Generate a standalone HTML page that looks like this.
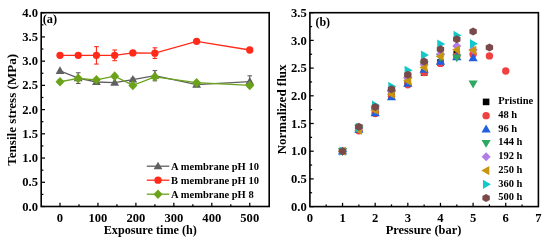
<!DOCTYPE html>
<html><head><meta charset="utf-8"><title>Figure</title>
<style>html,body{margin:0;padding:0;background:#fff}svg{display:block}</style></head>
<body>
<svg width="550" height="241" viewBox="0 0 550 241">
<rect width="550" height="241" fill="#fff"/>
<polyline fill="none" stroke="#606060" stroke-width="1.3" points="60.00,70.84 78.22,78.11 96.43,81.98 114.65,82.61 132.86,79.56 154.88,75.68 196.62,84.65 249.75,81.64"/>
<line x1="78.22" x2="78.22" y1="72.77" y2="83.44" stroke="#606060" stroke-width="1.1"/><line x1="75.92" x2="80.52" y1="72.77" y2="72.77" stroke="#606060" stroke-width="1.1"/><line x1="75.92" x2="80.52" y1="83.44" y2="83.44" stroke="#606060" stroke-width="1.1"/>
<line x1="96.43" x2="96.43" y1="80.04" y2="83.92" stroke="#606060" stroke-width="1.1"/><line x1="94.13" x2="98.73" y1="80.04" y2="80.04" stroke="#606060" stroke-width="1.1"/><line x1="94.13" x2="98.73" y1="83.92" y2="83.92" stroke="#606060" stroke-width="1.1"/>
<line x1="132.86" x2="132.86" y1="78.11" y2="81.02" stroke="#606060" stroke-width="1.1"/><line x1="130.56" x2="135.16" y1="78.11" y2="78.11" stroke="#606060" stroke-width="1.1"/><line x1="130.56" x2="135.16" y1="81.02" y2="81.02" stroke="#606060" stroke-width="1.1"/>
<line x1="154.88" x2="154.88" y1="70.59" y2="80.78" stroke="#606060" stroke-width="1.1"/><line x1="152.57" x2="157.18" y1="70.59" y2="70.59" stroke="#606060" stroke-width="1.1"/><line x1="152.57" x2="157.18" y1="80.78" y2="80.78" stroke="#606060" stroke-width="1.1"/>
<line x1="196.62" x2="196.62" y1="82.71" y2="86.59" stroke="#606060" stroke-width="1.1"/><line x1="194.32" x2="198.92" y1="82.71" y2="82.71" stroke="#606060" stroke-width="1.1"/><line x1="194.32" x2="198.92" y1="86.59" y2="86.59" stroke="#606060" stroke-width="1.1"/>
<line x1="249.75" x2="249.75" y1="75.82" y2="87.46" stroke="#606060" stroke-width="1.1"/><line x1="247.45" x2="252.05" y1="75.82" y2="75.82" stroke="#606060" stroke-width="1.1"/><line x1="247.45" x2="252.05" y1="87.46" y2="87.46" stroke="#606060" stroke-width="1.1"/>
<polygon points="60.00,66.27 55.60,73.89 64.40,73.89" fill="#606060"/>
<polygon points="78.22,73.54 73.82,81.16 82.62,81.16" fill="#606060"/>
<polygon points="96.43,77.41 92.03,85.03 100.83,85.03" fill="#606060"/>
<polygon points="114.65,78.04 110.25,85.66 119.05,85.66" fill="#606060"/>
<polygon points="132.86,74.99 128.46,82.61 137.26,82.61" fill="#606060"/>
<polygon points="154.88,71.11 150.47,78.73 159.28,78.73" fill="#606060"/>
<polygon points="196.62,80.08 192.22,87.70 201.02,87.70" fill="#606060"/>
<polygon points="249.75,77.07 245.35,84.69 254.15,84.69" fill="#606060"/>
<polyline fill="none" stroke="#ff2a1a" stroke-width="1.3" points="60.00,55.34 78.22,55.34 96.43,55.34 114.65,55.34 132.86,52.91 154.88,53.16 196.62,41.29 249.75,50.01"/>
<line x1="96.43" x2="96.43" y1="46.61" y2="64.07" stroke="#ff2a1a" stroke-width="1.1"/><line x1="94.13" x2="98.73" y1="46.61" y2="46.61" stroke="#ff2a1a" stroke-width="1.1"/><line x1="94.13" x2="98.73" y1="64.07" y2="64.07" stroke="#ff2a1a" stroke-width="1.1"/>
<line x1="114.65" x2="114.65" y1="50.00" y2="60.67" stroke="#ff2a1a" stroke-width="1.1"/><line x1="112.35" x2="116.95" y1="50.00" y2="50.00" stroke="#ff2a1a" stroke-width="1.1"/><line x1="112.35" x2="116.95" y1="60.67" y2="60.67" stroke="#ff2a1a" stroke-width="1.1"/>
<line x1="154.88" x2="154.88" y1="47.82" y2="58.49" stroke="#ff2a1a" stroke-width="1.1"/><line x1="152.57" x2="157.18" y1="47.82" y2="47.82" stroke="#ff2a1a" stroke-width="1.1"/><line x1="152.57" x2="157.18" y1="58.49" y2="58.49" stroke="#ff2a1a" stroke-width="1.1"/>
<circle cx="60.00" cy="55.34" r="3.65" fill="#ff2a1a"/>
<circle cx="78.22" cy="55.34" r="3.65" fill="#ff2a1a"/>
<circle cx="96.43" cy="55.34" r="3.65" fill="#ff2a1a"/>
<circle cx="114.65" cy="55.34" r="3.65" fill="#ff2a1a"/>
<circle cx="132.86" cy="52.91" r="3.65" fill="#ff2a1a"/>
<circle cx="154.88" cy="53.16" r="3.65" fill="#ff2a1a"/>
<circle cx="196.62" cy="41.29" r="3.65" fill="#ff2a1a"/>
<circle cx="249.75" cy="50.01" r="3.65" fill="#ff2a1a"/>
<polyline fill="none" stroke="#6aa31a" stroke-width="1.3" points="60.00,81.74 78.22,78.35 96.43,79.80 114.65,76.17 132.86,85.38 154.88,76.90 196.62,82.71 249.75,85.38"/>
<line x1="60.00" x2="60.00" y1="80.29" y2="83.20" stroke="#6aa31a" stroke-width="1.1"/><line x1="57.70" x2="62.30" y1="80.29" y2="80.29" stroke="#6aa31a" stroke-width="1.1"/><line x1="57.70" x2="62.30" y1="83.20" y2="83.20" stroke="#6aa31a" stroke-width="1.1"/>
<line x1="78.22" x2="78.22" y1="76.89" y2="79.80" stroke="#6aa31a" stroke-width="1.1"/><line x1="75.92" x2="80.52" y1="76.89" y2="76.89" stroke="#6aa31a" stroke-width="1.1"/><line x1="75.92" x2="80.52" y1="79.80" y2="79.80" stroke="#6aa31a" stroke-width="1.1"/>
<line x1="114.65" x2="114.65" y1="74.71" y2="77.62" stroke="#6aa31a" stroke-width="1.1"/><line x1="112.35" x2="116.95" y1="74.71" y2="74.71" stroke="#6aa31a" stroke-width="1.1"/><line x1="112.35" x2="116.95" y1="77.62" y2="77.62" stroke="#6aa31a" stroke-width="1.1"/>
<line x1="249.75" x2="249.75" y1="83.92" y2="86.83" stroke="#6aa31a" stroke-width="1.1"/><line x1="247.45" x2="252.05" y1="83.92" y2="83.92" stroke="#6aa31a" stroke-width="1.1"/><line x1="247.45" x2="252.05" y1="86.83" y2="86.83" stroke="#6aa31a" stroke-width="1.1"/>
<polygon points="60.00,76.94 64.51,81.74 60.00,86.54 55.49,81.74" fill="#6aa31a"/>
<polygon points="78.22,73.55 82.73,78.35 78.22,83.15 73.70,78.35" fill="#6aa31a"/>
<polygon points="96.43,75.00 100.94,79.80 96.43,84.60 91.92,79.80" fill="#6aa31a"/>
<polygon points="114.65,71.37 119.16,76.17 114.65,80.97 110.14,76.17" fill="#6aa31a"/>
<polygon points="132.86,80.58 137.38,85.38 132.86,90.17 128.35,85.38" fill="#6aa31a"/>
<polygon points="154.88,72.10 159.39,76.90 154.88,81.70 150.36,76.90" fill="#6aa31a"/>
<polygon points="196.62,77.91 201.13,82.71 196.62,87.51 192.11,82.71" fill="#6aa31a"/>
<polygon points="249.75,80.58 254.26,85.38 249.75,90.17 245.24,85.38" fill="#6aa31a"/>
<rect x="41.2" y="12.7" width="228.00" height="193.80" fill="none" stroke="#000" stroke-width="1.6"/>
<line x1="41.2" x2="45.0" y1="206.50" y2="206.50" stroke="#000" stroke-width="1.25"/>
<text x="38.0" y="210.60" text-anchor="end" font-size="12.6" font-family="Liberation Serif, Times New Roman, serif" font-weight="bold">0.0</text>
<line x1="41.2" x2="43.400000000000006" y1="194.39" y2="194.39" stroke="#000" stroke-width="1.25"/>
<line x1="41.2" x2="45.0" y1="182.28" y2="182.28" stroke="#000" stroke-width="1.25"/>
<text x="38.0" y="186.38" text-anchor="end" font-size="12.6" font-family="Liberation Serif, Times New Roman, serif" font-weight="bold">0.5</text>
<line x1="41.2" x2="43.400000000000006" y1="170.16" y2="170.16" stroke="#000" stroke-width="1.25"/>
<line x1="41.2" x2="45.0" y1="158.05" y2="158.05" stroke="#000" stroke-width="1.25"/>
<text x="38.0" y="162.15" text-anchor="end" font-size="12.6" font-family="Liberation Serif, Times New Roman, serif" font-weight="bold">1.0</text>
<line x1="41.2" x2="43.400000000000006" y1="145.94" y2="145.94" stroke="#000" stroke-width="1.25"/>
<line x1="41.2" x2="45.0" y1="133.82" y2="133.82" stroke="#000" stroke-width="1.25"/>
<text x="38.0" y="137.92" text-anchor="end" font-size="12.6" font-family="Liberation Serif, Times New Roman, serif" font-weight="bold">1.5</text>
<line x1="41.2" x2="43.400000000000006" y1="121.71" y2="121.71" stroke="#000" stroke-width="1.25"/>
<line x1="41.2" x2="45.0" y1="109.60" y2="109.60" stroke="#000" stroke-width="1.25"/>
<text x="38.0" y="113.70" text-anchor="end" font-size="12.6" font-family="Liberation Serif, Times New Roman, serif" font-weight="bold">2.0</text>
<line x1="41.2" x2="43.400000000000006" y1="97.49" y2="97.49" stroke="#000" stroke-width="1.25"/>
<line x1="41.2" x2="45.0" y1="85.38" y2="85.38" stroke="#000" stroke-width="1.25"/>
<text x="38.0" y="89.47" text-anchor="end" font-size="12.6" font-family="Liberation Serif, Times New Roman, serif" font-weight="bold">2.5</text>
<line x1="41.2" x2="43.400000000000006" y1="73.26" y2="73.26" stroke="#000" stroke-width="1.25"/>
<line x1="41.2" x2="45.0" y1="61.15" y2="61.15" stroke="#000" stroke-width="1.25"/>
<text x="38.0" y="65.25" text-anchor="end" font-size="12.6" font-family="Liberation Serif, Times New Roman, serif" font-weight="bold">3.0</text>
<line x1="41.2" x2="43.400000000000006" y1="49.04" y2="49.04" stroke="#000" stroke-width="1.25"/>
<line x1="41.2" x2="45.0" y1="36.92" y2="36.92" stroke="#000" stroke-width="1.25"/>
<text x="38.0" y="41.02" text-anchor="end" font-size="12.6" font-family="Liberation Serif, Times New Roman, serif" font-weight="bold">3.5</text>
<line x1="41.2" x2="43.400000000000006" y1="24.81" y2="24.81" stroke="#000" stroke-width="1.25"/>
<line x1="41.2" x2="45.0" y1="12.70" y2="12.70" stroke="#000" stroke-width="1.25"/>
<text x="38.0" y="16.80" text-anchor="end" font-size="12.6" font-family="Liberation Serif, Times New Roman, serif" font-weight="bold">4.0</text>
<line x1="60.00" x2="60.00" y1="206.5" y2="202.7" stroke="#000" stroke-width="1.25"/>
<text x="60.00" y="221.8" text-anchor="middle" font-size="12.6" font-family="Liberation Serif, Times New Roman, serif" font-weight="bold">0</text>
<line x1="78.97" x2="78.97" y1="206.5" y2="204.3" stroke="#000" stroke-width="1.25"/>
<line x1="97.95" x2="97.95" y1="206.5" y2="202.7" stroke="#000" stroke-width="1.25"/>
<text x="97.95" y="221.8" text-anchor="middle" font-size="12.6" font-family="Liberation Serif, Times New Roman, serif" font-weight="bold">100</text>
<line x1="116.92" x2="116.92" y1="206.5" y2="204.3" stroke="#000" stroke-width="1.25"/>
<line x1="135.90" x2="135.90" y1="206.5" y2="202.7" stroke="#000" stroke-width="1.25"/>
<text x="135.90" y="221.8" text-anchor="middle" font-size="12.6" font-family="Liberation Serif, Times New Roman, serif" font-weight="bold">200</text>
<line x1="154.88" x2="154.88" y1="206.5" y2="204.3" stroke="#000" stroke-width="1.25"/>
<line x1="173.85" x2="173.85" y1="206.5" y2="202.7" stroke="#000" stroke-width="1.25"/>
<text x="173.85" y="221.8" text-anchor="middle" font-size="12.6" font-family="Liberation Serif, Times New Roman, serif" font-weight="bold">300</text>
<line x1="192.82" x2="192.82" y1="206.5" y2="204.3" stroke="#000" stroke-width="1.25"/>
<line x1="211.80" x2="211.80" y1="206.5" y2="202.7" stroke="#000" stroke-width="1.25"/>
<text x="211.80" y="221.8" text-anchor="middle" font-size="12.6" font-family="Liberation Serif, Times New Roman, serif" font-weight="bold">400</text>
<line x1="230.78" x2="230.78" y1="206.5" y2="204.3" stroke="#000" stroke-width="1.25"/>
<line x1="249.75" x2="249.75" y1="206.5" y2="202.7" stroke="#000" stroke-width="1.25"/>
<text x="249.75" y="221.8" text-anchor="middle" font-size="12.6" font-family="Liberation Serif, Times New Roman, serif" font-weight="bold">500</text>
<text x="42.7" y="22.8" font-size="12.3" font-family="Liberation Serif, Times New Roman, serif" font-weight="bold">(a)</text>
<text x="150.3" y="233.8" text-anchor="middle" font-size="12.2" font-family="Liberation Serif, Times New Roman, serif" font-weight="bold">Exposure time (h)</text>
<text transform="translate(16.1,109.8) rotate(-90) scale(1,0.93)" text-anchor="middle" font-size="13.1" font-family="Liberation Serif, Times New Roman, serif" font-weight="bold">Tensile stress (MPa)</text>
<line x1="146.8" x2="169.3" y1="166.20" y2="166.20" stroke="#606060" stroke-width="1.3"/>
<polygon points="158.00,161.63 153.60,169.25 162.40,169.25" fill="#606060"/>
<text x="171.1" y="169.70" font-size="10.5" font-family="Liberation Serif, Times New Roman, serif" font-weight="bold">A membrane pH 10</text>
<line x1="146.8" x2="169.3" y1="180.20" y2="180.20" stroke="#ff2a1a" stroke-width="1.3"/>
<circle cx="158.00" cy="180.20" r="3.65" fill="#ff2a1a"/>
<text x="171.1" y="183.70" font-size="10.5" font-family="Liberation Serif, Times New Roman, serif" font-weight="bold">B membrane pH 10</text>
<line x1="146.8" x2="169.3" y1="194.20" y2="194.20" stroke="#6aa31a" stroke-width="1.3"/>
<polygon points="158.00,189.40 162.51,194.20 158.00,199.00 153.49,194.20" fill="#6aa31a"/>
<text x="171.1" y="197.70" font-size="10.5" font-family="Liberation Serif, Times New Roman, serif" font-weight="bold">A membrane pH 8</text>
<rect x="339.24" y="147.90" width="6.6" height="6.6" fill="#000000"/>
<rect x="355.56" y="125.74" width="6.6" height="6.6" fill="#000000"/>
<rect x="371.88" y="108.01" width="6.6" height="6.6" fill="#000000"/>
<rect x="388.20" y="91.39" width="6.6" height="6.6" fill="#000000"/>
<rect x="404.52" y="80.31" width="6.6" height="6.6" fill="#000000"/>
<rect x="420.84" y="69.23" width="6.6" height="6.6" fill="#000000"/>
<rect x="437.16" y="59.26" width="6.6" height="6.6" fill="#000000"/>
<rect x="453.48" y="50.95" width="6.6" height="6.6" fill="#000000"/>
<circle cx="342.54" cy="151.20" r="3.7" fill="#f04040"/>
<circle cx="358.86" cy="130.70" r="3.7" fill="#f04040"/>
<circle cx="375.18" cy="113.53" r="3.7" fill="#f04040"/>
<circle cx="391.50" cy="96.35" r="3.7" fill="#f04040"/>
<circle cx="407.82" cy="84.72" r="3.7" fill="#f04040"/>
<circle cx="424.14" cy="72.53" r="3.7" fill="#f04040"/>
<circle cx="440.46" cy="63.39" r="3.7" fill="#f04040"/>
<circle cx="456.78" cy="55.91" r="3.7" fill="#f04040"/>
<circle cx="473.10" cy="54.25" r="3.7" fill="#f04040"/>
<circle cx="489.42" cy="55.91" r="3.7" fill="#f04040"/>
<circle cx="505.74" cy="71.04" r="3.7" fill="#f04040"/>
<polygon points="342.54,146.42 337.94,154.39 347.14,154.39" fill="#2060e0"/>
<polygon points="358.86,124.81 354.26,132.78 363.46,132.78" fill="#2060e0"/>
<polygon points="375.18,108.19 370.58,116.16 379.78,116.16" fill="#2060e0"/>
<polygon points="391.50,92.40 386.90,100.37 396.10,100.37" fill="#2060e0"/>
<polygon points="407.82,78.83 403.22,86.80 412.42,86.80" fill="#2060e0"/>
<polygon points="424.14,64.70 419.54,72.67 428.74,72.67" fill="#2060e0"/>
<polygon points="440.46,56.67 435.86,64.64 445.06,64.64" fill="#2060e0"/>
<polygon points="456.78,52.24 452.18,60.21 461.38,60.21" fill="#2060e0"/>
<polygon points="473.10,53.35 468.50,61.31 477.70,61.31" fill="#2060e0"/>
<polygon points="342.54,155.98 337.94,148.01 347.14,148.01" fill="#2fa862"/>
<polygon points="358.86,132.71 354.26,124.75 363.46,124.75" fill="#2fa862"/>
<polygon points="375.18,114.43 370.58,106.46 379.78,106.46" fill="#2fa862"/>
<polygon points="391.50,97.81 386.90,89.84 396.10,89.84" fill="#2fa862"/>
<polygon points="407.82,85.07 403.22,77.10 412.42,77.10" fill="#2fa862"/>
<polygon points="424.14,69.56 419.54,61.59 428.74,61.59" fill="#2fa862"/>
<polygon points="440.46,61.80 435.86,53.83 445.06,53.83" fill="#2fa862"/>
<polygon points="456.78,62.35 452.18,54.39 461.38,54.39" fill="#2fa862"/>
<polygon points="473.10,88.39 468.50,80.43 477.70,80.43" fill="#2fa862"/>
<polygon points="342.54,146.70 347.04,151.20 342.54,155.70 338.04,151.20" fill="#b27de6"/>
<polygon points="358.86,123.43 363.36,127.93 358.86,132.43 354.36,127.93" fill="#b27de6"/>
<polygon points="375.18,104.60 379.68,109.10 375.18,113.60 370.68,109.10" fill="#b27de6"/>
<polygon points="391.50,86.87 396.00,91.37 391.50,95.87 387.00,91.37" fill="#b27de6"/>
<polygon points="407.82,73.57 412.32,78.07 407.82,82.57 403.32,78.07" fill="#b27de6"/>
<polygon points="424.14,60.28 428.64,64.78 424.14,69.28 419.64,64.78" fill="#b27de6"/>
<polygon points="440.46,49.75 444.96,54.25 440.46,58.75 435.96,54.25" fill="#b27de6"/>
<polygon points="456.78,41.44 461.28,45.94 456.78,50.44 452.28,45.94" fill="#b27de6"/>
<polygon points="473.10,45.32 477.60,49.82 473.10,54.32 468.60,49.82" fill="#b27de6"/>
<polygon points="337.76,151.20 345.73,146.60 345.73,155.80" fill="#c8950f"/>
<polygon points="354.08,130.15 362.05,125.55 362.05,134.75" fill="#c8950f"/>
<polygon points="370.40,110.20 378.37,105.60 378.37,114.80" fill="#c8950f"/>
<polygon points="386.72,94.14 394.69,89.54 394.69,98.74" fill="#c8950f"/>
<polygon points="403.04,80.84 411.01,76.24 411.01,85.44" fill="#c8950f"/>
<polygon points="419.36,67.55 427.33,62.95 427.33,72.15" fill="#c8950f"/>
<polygon points="435.68,56.47 443.65,51.87 443.65,61.07" fill="#c8950f"/>
<polygon points="452.00,49.82 459.97,45.22 459.97,54.42" fill="#c8950f"/>
<polygon points="468.32,50.37 476.29,45.77 476.29,54.97" fill="#c8950f"/>
<polygon points="347.32,151.20 339.35,146.60 339.35,155.80" fill="#12c8c8"/>
<polygon points="363.64,127.38 355.67,122.78 355.67,131.98" fill="#12c8c8"/>
<polygon points="379.96,105.22 371.99,100.62 371.99,109.82" fill="#12c8c8"/>
<polygon points="396.28,86.38 388.31,81.78 388.31,90.98" fill="#12c8c8"/>
<polygon points="412.60,70.32 404.63,65.72 404.63,74.92" fill="#12c8c8"/>
<polygon points="428.92,55.08 420.95,50.48 420.95,59.68" fill="#12c8c8"/>
<polygon points="445.24,44.00 437.27,39.40 437.27,48.60" fill="#12c8c8"/>
<polygon points="461.56,35.41 453.59,30.81 453.59,40.01" fill="#12c8c8"/>
<polygon points="477.88,43.72 469.91,39.12 469.91,48.32" fill="#12c8c8"/>
<polygon points="342.54,147.20 346.25,149.20 346.25,153.20 342.54,155.20 338.83,153.20 338.83,149.20" fill="#7a4a4a"/>
<polygon points="358.86,122.82 362.57,124.82 362.57,128.82 358.86,130.82 355.15,128.82 355.15,124.82" fill="#7a4a4a"/>
<polygon points="375.18,102.88 378.89,104.88 378.89,108.88 375.18,110.88 371.47,108.88 371.47,104.88" fill="#7a4a4a"/>
<polygon points="391.50,85.15 395.21,87.15 395.21,91.15 391.50,93.15 387.79,91.15 387.79,87.15" fill="#7a4a4a"/>
<polygon points="407.82,70.75 411.53,72.75 411.53,76.75 407.82,78.75 404.11,76.75 404.11,72.75" fill="#7a4a4a"/>
<polygon points="424.14,57.45 427.85,59.45 427.85,63.45 424.14,65.45 420.43,63.45 420.43,59.45" fill="#7a4a4a"/>
<polygon points="440.46,45.26 444.17,47.26 444.17,51.26 440.46,53.26 436.75,51.26 436.75,47.26" fill="#7a4a4a"/>
<polygon points="456.78,35.29 460.49,37.29 460.49,41.29 456.78,43.29 453.07,41.29 453.07,37.29" fill="#7a4a4a"/>
<polygon points="473.10,27.54 476.81,29.54 476.81,33.54 473.10,35.54 469.39,33.54 469.39,29.54" fill="#7a4a4a"/>
<polygon points="489.42,43.60 493.13,45.60 493.13,49.60 489.42,51.60 485.71,49.60 485.71,45.60" fill="#7a4a4a"/>
<rect x="309.9" y="12.7" width="228.50" height="193.90" fill="none" stroke="#000" stroke-width="1.6"/>
<line x1="309.9" x2="313.7" y1="206.60" y2="206.60" stroke="#000" stroke-width="1.25"/>
<text x="306.7" y="210.70" text-anchor="end" font-size="12.6" font-family="Liberation Serif, Times New Roman, serif" font-weight="bold">0.0</text>
<line x1="309.9" x2="312.09999999999997" y1="192.75" y2="192.75" stroke="#000" stroke-width="1.25"/>
<line x1="309.9" x2="313.7" y1="178.90" y2="178.90" stroke="#000" stroke-width="1.25"/>
<text x="306.7" y="183.00" text-anchor="end" font-size="12.6" font-family="Liberation Serif, Times New Roman, serif" font-weight="bold">0.5</text>
<line x1="309.9" x2="312.09999999999997" y1="165.05" y2="165.05" stroke="#000" stroke-width="1.25"/>
<line x1="309.9" x2="313.7" y1="151.20" y2="151.20" stroke="#000" stroke-width="1.25"/>
<text x="306.7" y="155.30" text-anchor="end" font-size="12.6" font-family="Liberation Serif, Times New Roman, serif" font-weight="bold">1.0</text>
<line x1="309.9" x2="312.09999999999997" y1="137.35" y2="137.35" stroke="#000" stroke-width="1.25"/>
<line x1="309.9" x2="313.7" y1="123.50" y2="123.50" stroke="#000" stroke-width="1.25"/>
<text x="306.7" y="127.60" text-anchor="end" font-size="12.6" font-family="Liberation Serif, Times New Roman, serif" font-weight="bold">1.5</text>
<line x1="309.9" x2="312.09999999999997" y1="109.65" y2="109.65" stroke="#000" stroke-width="1.25"/>
<line x1="309.9" x2="313.7" y1="95.80" y2="95.80" stroke="#000" stroke-width="1.25"/>
<text x="306.7" y="99.90" text-anchor="end" font-size="12.6" font-family="Liberation Serif, Times New Roman, serif" font-weight="bold">2.0</text>
<line x1="309.9" x2="312.09999999999997" y1="81.95" y2="81.95" stroke="#000" stroke-width="1.25"/>
<line x1="309.9" x2="313.7" y1="68.10" y2="68.10" stroke="#000" stroke-width="1.25"/>
<text x="306.7" y="72.20" text-anchor="end" font-size="12.6" font-family="Liberation Serif, Times New Roman, serif" font-weight="bold">2.5</text>
<line x1="309.9" x2="312.09999999999997" y1="54.25" y2="54.25" stroke="#000" stroke-width="1.25"/>
<line x1="309.9" x2="313.7" y1="40.40" y2="40.40" stroke="#000" stroke-width="1.25"/>
<text x="306.7" y="44.50" text-anchor="end" font-size="12.6" font-family="Liberation Serif, Times New Roman, serif" font-weight="bold">3.0</text>
<line x1="309.9" x2="312.09999999999997" y1="26.55" y2="26.55" stroke="#000" stroke-width="1.25"/>
<line x1="309.9" x2="313.7" y1="12.70" y2="12.70" stroke="#000" stroke-width="1.25"/>
<text x="306.7" y="16.80" text-anchor="end" font-size="12.6" font-family="Liberation Serif, Times New Roman, serif" font-weight="bold">3.5</text>
<text x="309.90" y="221.8" text-anchor="middle" font-size="12.6" font-family="Liberation Serif, Times New Roman, serif" font-weight="bold">0</text>
<line x1="326.22" x2="326.22" y1="206.6" y2="204.4" stroke="#000" stroke-width="1.25"/>
<line x1="342.54" x2="342.54" y1="206.6" y2="202.79999999999998" stroke="#000" stroke-width="1.25"/>
<text x="342.54" y="221.8" text-anchor="middle" font-size="12.6" font-family="Liberation Serif, Times New Roman, serif" font-weight="bold">1</text>
<line x1="358.86" x2="358.86" y1="206.6" y2="204.4" stroke="#000" stroke-width="1.25"/>
<line x1="375.18" x2="375.18" y1="206.6" y2="202.79999999999998" stroke="#000" stroke-width="1.25"/>
<text x="375.18" y="221.8" text-anchor="middle" font-size="12.6" font-family="Liberation Serif, Times New Roman, serif" font-weight="bold">2</text>
<line x1="391.50" x2="391.50" y1="206.6" y2="204.4" stroke="#000" stroke-width="1.25"/>
<line x1="407.82" x2="407.82" y1="206.6" y2="202.79999999999998" stroke="#000" stroke-width="1.25"/>
<text x="407.82" y="221.8" text-anchor="middle" font-size="12.6" font-family="Liberation Serif, Times New Roman, serif" font-weight="bold">3</text>
<line x1="424.14" x2="424.14" y1="206.6" y2="204.4" stroke="#000" stroke-width="1.25"/>
<line x1="440.46" x2="440.46" y1="206.6" y2="202.79999999999998" stroke="#000" stroke-width="1.25"/>
<text x="440.46" y="221.8" text-anchor="middle" font-size="12.6" font-family="Liberation Serif, Times New Roman, serif" font-weight="bold">4</text>
<line x1="456.78" x2="456.78" y1="206.6" y2="204.4" stroke="#000" stroke-width="1.25"/>
<line x1="473.10" x2="473.10" y1="206.6" y2="202.79999999999998" stroke="#000" stroke-width="1.25"/>
<text x="473.10" y="221.8" text-anchor="middle" font-size="12.6" font-family="Liberation Serif, Times New Roman, serif" font-weight="bold">5</text>
<line x1="489.42" x2="489.42" y1="206.6" y2="204.4" stroke="#000" stroke-width="1.25"/>
<line x1="505.74" x2="505.74" y1="206.6" y2="202.79999999999998" stroke="#000" stroke-width="1.25"/>
<text x="505.74" y="221.8" text-anchor="middle" font-size="12.6" font-family="Liberation Serif, Times New Roman, serif" font-weight="bold">6</text>
<line x1="522.06" x2="522.06" y1="206.6" y2="204.4" stroke="#000" stroke-width="1.25"/>
<text x="538.38" y="221.8" text-anchor="middle" font-size="12.6" font-family="Liberation Serif, Times New Roman, serif" font-weight="bold">7</text>
<text x="315.4" y="26.1" font-size="12" font-family="Liberation Serif, Times New Roman, serif" font-weight="bold">(b)</text>
<text x="423.5" y="233.8" text-anchor="middle" font-size="12.4" font-family="Liberation Serif, Times New Roman, serif" font-weight="bold">Pressure (bar)</text>
<text transform="translate(286.4,109.4) rotate(-90) scale(1,0.97)" text-anchor="middle" font-size="13" font-family="Liberation Serif, Times New Roman, serif" font-weight="bold">Normalized flux</text>
<rect x="482.80" y="98.60" width="6.6" height="6.6" fill="#000000"/>
<text x="498.2" y="104.25" font-size="10.5" font-family="Liberation Serif, Times New Roman, serif" font-weight="bold">Pristine</text>
<circle cx="486.10" cy="115.63" r="3.7" fill="#f04040"/>
<text x="498.2" y="117.98" font-size="10.5" font-family="Liberation Serif, Times New Roman, serif" font-weight="bold">48 h</text>
<polygon points="486.10,124.58 481.50,132.55 490.70,132.55" fill="#2060e0"/>
<text x="498.2" y="131.71" font-size="10.5" font-family="Liberation Serif, Times New Roman, serif" font-weight="bold">96 h</text>
<polygon points="486.10,147.87 481.50,139.90 490.70,139.90" fill="#2fa862"/>
<text x="498.2" y="145.44" font-size="10.5" font-family="Liberation Serif, Times New Roman, serif" font-weight="bold">144 h</text>
<polygon points="486.10,152.32 490.60,156.82 486.10,161.32 481.60,156.82" fill="#b27de6"/>
<text x="498.2" y="159.17" font-size="10.5" font-family="Liberation Serif, Times New Roman, serif" font-weight="bold">192 h</text>
<polygon points="481.32,170.55 489.29,165.95 489.29,175.15" fill="#c8950f"/>
<text x="498.2" y="172.90" font-size="10.5" font-family="Liberation Serif, Times New Roman, serif" font-weight="bold">250 h</text>
<polygon points="490.88,184.28 482.91,179.68 482.91,188.88" fill="#12c8c8"/>
<text x="498.2" y="186.63" font-size="10.5" font-family="Liberation Serif, Times New Roman, serif" font-weight="bold">360 h</text>
<polygon points="486.10,194.01 489.81,196.01 489.81,200.01 486.10,202.01 482.39,200.01 482.39,196.01" fill="#7a4a4a"/>
<text x="498.2" y="200.36" font-size="10.5" font-family="Liberation Serif, Times New Roman, serif" font-weight="bold">500 h</text>
</svg>
</body></html>
